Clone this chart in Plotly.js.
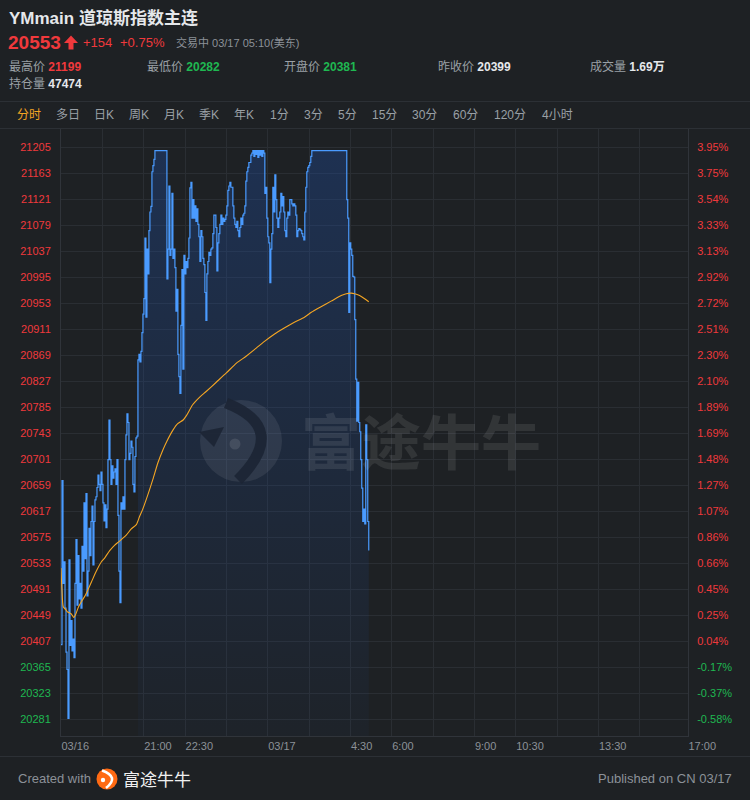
<!DOCTYPE html>
<html>
<head>
<meta charset="utf-8">
<script src="https://cdn.plot.ly/plotly-3.0.1.min.js"></script>
<style>
html,body{margin:0;padding:0;background:#1e2124;}
#chart{width:750px;height:800px;}
</style>
</head>
<body>
<div id="chart"></div>
<script>
// ---------------- DATA ----------------
const prevClose = 20399;
const sessionMinutesSoFar = 670; // 18:00 (03/16) -> 05:10 (03/17)

// Intraday price, evenly sampled from 18:00 to 05:10
const priceValues = [
20401,20666,20500,20535,20460,20389,20361,20282,20538,20400,
20440,20391,20410,20380,20500,20571,20465,20545,20475,20500,
20460,20560,20520,20630,20540,20645,20480,20520,20589,20545,
20600,20625,20530,20600,20635,20640,20655,20675,20660,20650,
20680,20660,20630,20601,20627,20590,20620,20700,20764,20700,
20660,20690,20670,20680,20685,20660,20700,20610,20520,20469,
20630,20620,20640,20620,20700,20740,20774,20760,20700,20710,
20730,20720,20660,20648,20705,20735,20738,20861,20870,20858,
20875,20905,20935,20960,21058,20930,21040,21000,21070,21100,
21109,21165,21175,21185,
21199,21199,21199,21199,21199,21199,21199,21199,21199,21199,21199,21199,
20992,21040,21142,21030,21040,21130,21025,21040,21010,20940,
20975,20870,20834,20807,20917,21007,20846,21030,21000,21020,
21010,21025,21058,21139,21148,21090,21120,21090,21110,21085,
21105,21080,21060,21020,21070,21060,21025,21015,20970,20925,
21000,21020,21035,21030,21040,21042,21065,21095,21095,21075,
21005,21050,21065,21080,21095,21080,21090,21085,21088,21095,
21110,21135,21142,21148,21140,21140,21110,21090,21080,21075,
21085,21070,21060,21075,21090,21080,21095,21098,21110,21150,
21165,21172,21180,21180,21192,21195,21199,21190,21199,21193,
21199,21188,21199,21192,21199,21190,21199,21195,21130,21140,
21090,21060,21050,20986,21040,21065,21140,21100,21160,21120,
21090,21075,21090,21100,21130,21110,21125,21100,21070,21060,
21090,21100,21095,21120,21120,21113,21110,21113,21110,21095,
21060,21070,21073,21072,21070,21065,21060,21055,21100,21140,
21165,21172,21175,21180,21190,
21199,21199,21199,21199,21199,21199,21199,21199,21199,21199,
21199,21199,21199,21199,21199,21199,21199,21199,21199,21199,
21199,21199,21199,21199,21199,21199,21199,21199,21199,21199,
21199,21199,21199,21199,21199,
21120,21090,20938,21050,21040,21030,20996,20995,20926,20830,
20762,20825,20760,20745,20700,20654,20600,20620,20596,20756,
20700,20600,20553
];
const fillStartIndex = 77; // area shading begins at the 21:00 breakout

// Average-price line: minutes after 18:00 and value
const avgMinutes = [0,2,5,10,14,22,28,33,38,44,53,66,77,88,95,106,117,127,142,153,164,171,178,189,200,211,222,230,244,254,266,273,287,302,316,338,360,382,403,425,443,465,487,508,530,545,566,588,610,621,632,639,650,661,670];
const avgValues  = [20525,20490,20462,20458,20454,20451,20445,20452,20462,20470,20481,20502,20520,20535,20541,20553,20562,20568,20578,20588,20595,20608,20620,20643,20668,20695,20716,20729,20748,20758,20764,20771,20789,20801,20810,20825,20840,20856,20867,20880,20891,20903,20913,20922,20930,20938,20947,20956,20965,20968,20969,20968,20965,20960,20955];

// Axis ticks
const yTickValues = [21205,21163,21121,21079,21037,20995,20953,20911,20869,20827,20785,20743,20701,20659,20617,20575,20533,20491,20449,20407,20365,20323,20281];
const yTickPct = ['3.95%','3.75%','3.54%','3.33%','3.13%','2.92%','2.72%','2.51%','2.30%','2.10%','1.89%','1.69%','1.48%','1.27%','1.07%','0.86%','0.66%','0.45%','0.25%','0.04%','-0.17%','-0.37%','-0.58%'];
const xTickMinutes = [0,90,180,270,360,450,540,630,720,810,900,990,1080,1170,1260,1365];
const xTickText = ['03/16','','21:00','22:30','','03/17','','4:30','6:00','','9:00','10:30','','13:30','','17:00'];
const xRangeMinutes = 1365;

// Header quote
const quoteTitle = 'YMmain 道琼斯指数主连';
const lastPrice = '20553', change = '+154', changePct = '+0.75%';
const statusText = '交易中 03/17 05:10(美东)';
const statLabels = ['最高价','最低价','开盘价','昨收价','成交量','持仓量'];
const statValues = ['21199','20282','20381','20399','1.69万','47474'];
const tabLabels = ['分时','多日','日K','周K','月K','季K','年K','1分','3分','5分','15分','30分','60分','120分','4小时'];

// ---------------- STYLE / LAYOUT ----------------
const BG = '#1e2124', GRID = '#2a2e33', AXL = '#30343a';
const RED = '#f0393c', GREEN = '#1fb851', GRAY = '#9aa0a6', WHITE = '#e6e8eb';
const FONT = 'Liberation Sans, Arial, Noto Sans CJK SC, sans-serif';
const CJK = 'Noto Sans CJK SC, Liberation Sans, sans-serif';
const L = 61, R = 62, T = 129, B = 64;
const W = 750 - L - R, H = 800 - T - B;
const PX_PER_VAL = 26 / 42;
const yBottom = 20281 - 17 / PX_PER_VAL;
const yTop = 21205 + 18 / PX_PER_VAL;
function px(x){ return (x - L) / W; }
function py(y){ return (800 - B - y) / H; }

const step = sessionMinutesSoFar / (priceValues.length - 1);
const priceMinutes = priceValues.map((_, i) => i * step);

const colorOf = v => v >= prevClose ? RED : GREEN;
const yLeftText = yTickValues.map(v => `<span style="color:${colorOf(v)}">${v}</span>`);
const yRightText = yTickValues.map((v, i) => `<span style="color:${colorOf(v)}">${yTickPct[i]}</span>`);

const traces = [
  {
    x: priceMinutes.slice(fillStartIndex), y: priceValues.slice(fillStartIndex),
    type: 'scatter', mode: 'lines', fill: 'tozeroy',
    line: {width: 0, color: 'rgba(0,0,0,0)', shape: 'hv'},
    fillcolor: 'rgba(30,80,170,0.18)',
    fillgradient: {type: 'vertical', start: yBottom, stop: 21205,
      colorscale: [[0, 'rgba(30,80,170,0.04)'], [1, 'rgba(30,80,170,0.34)']]},
    hoverinfo: 'skip', showlegend: false
  },
  {
    x: priceMinutes, y: priceValues, type: 'scatter', mode: 'lines',
    line: {color: '#4a9bff', width: 1.2, shape: 'hv'}, showlegend: false
  },
  {
    x: avgMinutes, y: avgValues, type: 'scatter', mode: 'lines', yaxis: 'y2',
    line: {color: '#f5a623', width: 1.1, shape: 'spline', smoothing: 0.6}, showlegend: false
  }
];

const annotations = [];
function txt(x, y, text, size, color, opts) {
  annotations.push(Object.assign({
    xref: 'paper', yref: 'paper', x: px(x), y: py(y), text: text,
    showarrow: false, xanchor: 'left', yanchor: 'middle',
    font: {family: FONT, size: size, color: color}
  }, opts || {}));
}
// header
txt(7, 18, '<b>' + quoteTitle + '</b>', 17, WHITE);
txt(63, 42, '<b>' + lastPrice + '</b>', 19, RED, {xanchor: 'right'});
txt(81, 42, change, 13, RED);
txt(118, 42, changePct, 13, RED);
txt(174, 42, statusText, 11, '#8c9198');
const statX = [7, 145, 282, 436, 588, 7];
const statY = [67, 67, 67, 67, 67, 84];
const statColors = [RED, GREEN, GREEN, WHITE, WHITE, WHITE];
statLabels.forEach((lab, i) => {
  txt(statX[i], statY[i], lab + ' <span style="color:' + statColors[i] + '"><b>' + statValues[i] + '</b></span>', 12, GRAY);
});
const tabX = [15, 54, 92, 127, 162, 197, 232, 268, 302, 336, 370, 410, 451, 492, 540];
tabLabels.forEach((t, i) => txt(tabX[i], 115, t, 12, i === 0 ? '#f5a623' : GRAY));
// watermark
txt(421, 438, '<b>富途牛牛</b>', 60, 'rgba(255,255,255,0.09)', {xanchor: 'center', font: {family: CJK, size: 60, color: 'rgba(255,255,255,0.09)'}});
// footer
txt(16, 779, 'Created with', 13, '#8c9198');
txt(121, 779, '富途牛牛', 17, '#f0f0f0', {font: {family: CJK, size: 17, color: '#f0f0f0'}});
txt(734, 779, 'Published on CN 03/17', 13, '#8c9198', {xanchor: 'right'});

const shapes = [];
function hline(y) {
  shapes.push({type: 'line', xref: 'paper', yref: 'paper', x0: px(0), x1: px(750), y0: py(y), y1: py(y), line: {color: '#2c3035', width: 1}});
}
hline(101.5); hline(128.5); hline(756.5);
function pathOf(pts) { return pts.map((p, i) => (i ? 'L' : 'M') + px(p[0]) + ',' + py(p[1])).join(' ') + ' Z'; }
function circle(cx, cy, r, fill, layer) {
  shapes.push({type: 'circle', xref: 'paper', yref: 'paper', x0: px(cx - r), x1: px(cx + r), y0: py(cy + r), y1: py(cy - r), fillcolor: fill, line: {width: 0}, layer: layer || 'above'});
}
// up arrow next to the price
shapes.push({type: 'path', xref: 'paper', yref: 'paper', path: pathOf([[64, 43], [71, 35.5], [78, 43], [73.5, 43], [73.5, 49.5], [68.5, 49.5], [68.5, 43]]), fillcolor: RED, line: {width: 0}});
// watermark logo
circle(241, 441, 41, 'rgba(255,255,255,0.08)');
shapes.push({type: 'path', xref: 'paper', yref: 'paper', layer: 'above',
  path: 'M' + px(226) + ',' + py(403) + ' Q' + px(290) + ',' + py(428) + ' ' + px(238) + ',' + py(480),
  line: {color: 'rgba(28,37,52,0.9)', width: 11}});
shapes.push({type: 'path', xref: 'paper', yref: 'paper', path: pathOf([[199, 432], [224, 427], [214, 447]]), fillcolor: 'rgba(28,37,52,0.9)', line: {width: 0}});
circle(235, 444, 5.5, 'rgba(255,255,255,0.10)');
// footer logo
circle(107, 779, 10.5, '#ff6a13');
shapes.push({type: 'path', xref: 'paper', yref: 'paper', layer: 'above',
  path: 'M' + px(102) + ',' + py(770.5) + ' Q' + px(120) + ',' + py(777) + ' ' + px(106) + ',' + py(788),
  line: {color: '#ffffff', width: 2.6}});
circle(103, 780, 2.2, '#ffffff');

const layout = {
  width: 750, height: 800,
  paper_bgcolor: BG, plot_bgcolor: BG,
  margin: {l: L, r: R, t: T, b: B, pad: 0},
  font: {family: FONT, color: GRAY},
  showlegend: false,
  xaxis: {
    range: [0, xRangeMinutes], tickmode: 'array', tickvals: xTickMinutes, ticktext: xTickText,
    ticklabelposition: 'outside right', ticks: '', showgrid: true, gridcolor: GRID, gridwidth: 1,
    zeroline: false, showline: true, linecolor: AXL, linewidth: 1,
    tickfont: {family: FONT, size: 11, color: '#8c9198'}, fixedrange: true
  },
  yaxis: {
    range: [yBottom, yTop], tickmode: 'array', tickvals: yTickValues, ticktext: yLeftText,
    ticks: '', ticklabelstandoff: 7, showgrid: true, gridcolor: GRID, gridwidth: 1, zeroline: false,
    showline: true, linecolor: AXL, linewidth: 1,
    tickfont: {family: FONT, size: 11, color: RED}, fixedrange: true
  },
  yaxis2: {
    overlaying: 'y', side: 'right', range: [yBottom, yTop], tickmode: 'array',
    tickvals: yTickValues, ticktext: yRightText, ticks: '', ticklabelstandoff: 6,
    showgrid: false, zeroline: false, showline: true, linecolor: AXL, linewidth: 1,
    tickfont: {family: FONT, size: 11, color: RED}, fixedrange: true
  },
  annotations: annotations,
  shapes: shapes
};

Plotly.newPlot('chart', traces, layout, {displayModeBar: false, staticPlot: true});
</script>
</body>
</html>
